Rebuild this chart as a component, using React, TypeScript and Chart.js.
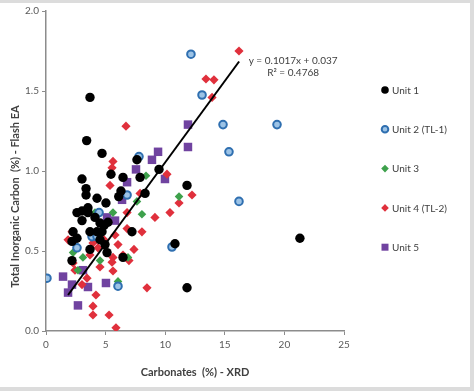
import React, { useEffect, useRef } from "react";
import { Chart, registerables } from "chart.js";

Chart.register(...registerables);

// ---- data: [carbonates %, TIC %] ----
const unit1: number[][] = [
  [3.69, 1.46], [3.41, 1.19], [4.7, 1.11], [5.45, 0.98], [6.46, 0.96], [3.02, 0.95],
  [7.63, 1.07], [7.89, 0.96], [9.48, 1.01], [3.36, 0.89], [3.36, 0.85], [4.28, 0.83],
  [5.03, 0.8], [6.29, 0.875], [8.31, 0.86], [11.83, 0.91], [2.6, 0.74], [3.02, 0.75],
  [3.52, 0.74], [3.02, 0.69], [4.11, 0.71], [4.53, 0.675], [4.87, 0.66], [5.2, 0.68],
  [2.27, 0.62], [2.6, 0.58], [2.18, 0.56], [3.69, 0.62], [4.28, 0.62], [4.7, 0.62],
  [4.95, 0.54], [5.12, 0.49], [4.53, 0.57], [3.69, 0.51], [7.21, 0.62], [10.82, 0.545],
  [6.46, 0.46], [2.18, 0.44], [11.83, 0.27], [21.3, 0.58], [6.1, 0.84], [3.52, 0.77],
];
const unit2: number[][] = [
  [12.16, 1.73], [13.09, 1.475], [14.85, 1.29], [19.38, 1.29], [15.35, 1.12], [16.19, 0.81],
  [7.8, 1.09], [6.8, 0.85], [4.45, 0.74], [3.86, 0.59], [2.6, 0.52], [10.57, 0.525],
  [6.04, 0.28], [0.08, 0.33], [4.28, 0.59],
];
const unit3: number[][] = [
  [8.39, 0.97], [11.16, 0.84], [7.63, 0.81], [8.05, 0.73], [5.62, 0.74], [4.11, 0.74],
  [4.53, 0.44], [3.1, 0.46], [6.88, 0.46], [6.04, 0.31], [2.68, 0.38], [2.27, 0.49],
];
const unit4: number[][] = [
  [16.19, 1.75], [13.42, 1.575], [14.09, 1.57], [13.93, 1.46], [6.71, 1.28], [5.62, 1.06],
  [5.54, 1.02], [10.15, 0.98], [5.37, 0.91], [7.89, 0.86], [12.25, 0.85], [11.16, 0.8],
  [10.4, 0.74], [9.14, 0.71], [6.8, 0.74], [8.05, 0.62], [6.8, 0.64], [5.79, 0.6],
  [2.18, 0.62], [1.85, 0.57], [3.94, 0.55], [4.36, 0.52], [3.69, 0.475], [5.62, 0.46],
  [5.54, 0.43], [6.46, 0.475], [7.38, 0.51], [4.53, 0.4], [5.62, 0.375], [2.27, 0.425],
  [2.43, 0.38], [3.44, 0.33], [3.02, 0.29], [8.47, 0.27], [4.19, 0.225], [3.94, 0.155],
  [3.94, 0.1], [5.29, 0.1], [5.87, 0.02], [6.96, 0.44], [4.87, 0.57], [6.04, 0.54],
];
const unit5: number[][] = [
  [11.91, 1.29], [11.91, 1.15], [9.4, 1.12], [8.89, 1.07], [7.55, 1.01], [6.8, 0.93],
  [9.98, 0.95], [6.38, 0.82], [5.12, 0.71], [5.79, 0.69], [3.1, 0.38], [1.43, 0.34],
  [2.18, 0.29], [3.52, 0.275], [5.03, 0.3], [1.85, 0.24], [2.68, 0.16],
];

const seriesLabels = ["Unit 1", "Unit 2 (TL-1)", "Unit 3", "Unit 4 (TL-2)", "Unit 5"];
const xTitle = "Carbonates  (%) - XRD";
const yTitle = "Total Inorganic Carbon  (%) - Flash EA";
const trendSlope = 0.1017;
const trendIntercept = 0.037;
const trendR2 = 0.4768;
const trendRangeX = [1.85, 16.2];
const xTicks = [0, 5, 10, 15, 20, 25];
const yTicks = [0, 0.5, 1.0, 1.5, 2.0];

const FONT = "Lato, 'Open Sans', 'Liberation Sans', sans-serif";

const styles = [
  { pointStyle: "circle", radius: 4.7, bg: "#000000", border: "#000000", bw: 0 },
  { pointStyle: "circle", radius: 3.8, bg: "#9cc3e6", border: "#2f6fb0", bw: 2 },
  { pointStyle: "rectRot", radius: 4.3, bg: "#3ea14c", border: "#3ea14c", bw: 0 },
  { pointStyle: "rectRot", radius: 4.6, bg: "#e0303c", border: "#e0303c", bw: 0 },
  { pointStyle: "rect", radius: 6, bg: "#7043a0", border: "#7043a0", bw: 0 },
];

const toPts = (arr: number[][]) => arr.map(([x, y]) => ({ x, y }));

export default function App() {
  const ref = useRef<HTMLCanvasElement>(null);

  useEffect(() => {
    if (!ref.current) return;
    const all = [unit1, unit2, unit3, unit4, unit5];
    const datasets: any[] = all.map((arr, i) => ({
      label: seriesLabels[i],
      data: toPts(arr),
      pointStyle: styles[i].pointStyle,
      pointRadius: styles[i].radius,
      backgroundColor: styles[i].bg,
      borderColor: styles[i].border,
      pointBorderWidth: styles[i].bw,
      showLine: false,
    }));
    datasets.push({
      label: "trend",
      data: trendRangeX.map((x) => ({ x, y: trendSlope * x + trendIntercept })),
      showLine: true,
      borderColor: "#000000",
      borderWidth: 2,
      pointRadius: 0,
      order: -1,
    });

    const overlay = {
      id: "overlay",
      afterDraw(chart: any) {
        const ctx = chart.ctx;
        const xs = chart.scales.x;
        const ys = chart.scales.y;
        ctx.save();
        // trendline equation
        ctx.fillStyle = "#404040";
        ctx.font = `10px ${FONT}`;
        ctx.textBaseline = "middle";
        const eq = `y = ${trendSlope}x + ${trendIntercept}`;
        const ex = xs.getPixelForValue(17);
        const ey = ys.getPixelForValue(1.69);
        ctx.textAlign = "left";
        ctx.fillText(eq, ex, ey);
        const w = ctx.measureText(eq).width;
        ctx.textAlign = "center";
        ctx.fillText(`R² = ${trendR2}`, ex + w / 2, ey + 12);

        // y axis title (offset downward like the original)
        ctx.save();
        ctx.translate(15, ys.getPixelForValue(0.84));
        ctx.rotate(-Math.PI / 2);
        ctx.font = `bold 11px ${FONT}`;
        ctx.fillStyle = "#404040";
        ctx.textAlign = "center";
        ctx.textBaseline = "middle";
        ctx.fillText(yTitle, 0, 0);
        ctx.restore();

        // legend
        const lx = 385;
        seriesLabels.forEach((lab, i) => {
          const y = 90 + i * 39.3;
          const s = styles[i];
          ctx.fillStyle = s.bg;
          ctx.strokeStyle = s.border;
          ctx.lineWidth = s.bw;
          const r = s.pointStyle === "circle" ? (i === 1 ? 3.3 : 3.8) : 3.8;
          ctx.beginPath();
          if (s.pointStyle === "circle") {
            ctx.arc(lx, y, r, 0, Math.PI * 2);
          } else if (s.pointStyle === "rectRot") {
            ctx.moveTo(lx, y - r);
            ctx.lineTo(lx + r, y);
            ctx.lineTo(lx, y + r);
            ctx.lineTo(lx - r, y);
            ctx.closePath();
          } else {
            ctx.rect(lx - 3.5, y - 3.5, 7, 7);
          }
          ctx.fill();
          if (s.bw) ctx.stroke();
          ctx.fillStyle = "#404040";
          ctx.font = `10px ${FONT}`;
          ctx.textAlign = "left";
          ctx.textBaseline = "middle";
          ctx.fillText(lab, lx + 7, y + 0.5);
        });
        ctx.restore();
      },
    };

    const chart = new Chart(ref.current, {
      type: "scatter",
      data: { datasets },
      plugins: [overlay],
      options: {
        animation: false,
        responsive: false,
        layout: { padding: { left: 0, top: 11, right: 130, bottom: 0 } },
        plugins: {
          legend: { display: false },
          tooltip: { enabled: false },
        },
        scales: {
          x: {
            type: "linear",
            min: 0,
            max: 25,
            afterBuildTicks: (s: any) => {
              s.ticks = xTicks.map((v) => ({ value: v }));
            },
            afterFit: (s: any) => {
              s.height = 60;
            },
            ticks: {
              color: "#595959",
              font: { family: FONT, size: 10 },
              padding: 4,
              maxRotation: 0,
            },
            grid: { drawOnChartArea: false, drawTicks: true, tickLength: 4, color: "#8c8c8c" },
            border: { color: "#8c8c8c", width: 1.5 },
            title: {
              display: true,
              text: xTitle,
              color: "#404040",
              font: { family: FONT, size: 11, weight: "bold" },
              padding: { top: 12, bottom: 12 },
            },
          },
          y: {
            type: "linear",
            min: 0,
            max: 2,
            afterBuildTicks: (s: any) => {
              s.ticks = yTicks.map((v) => ({ value: v }));
            },
            afterFit: (s: any) => {
              s.width = 46;
            },
            ticks: {
              color: "#595959",
              font: { family: FONT, size: 10 },
              padding: 3,
              callback: (v: any) => Number(v).toFixed(1),
            },
            grid: { drawOnChartArea: false, drawTicks: true, tickLength: 4, color: "#8c8c8c" },
            border: { color: "#8c8c8c", width: 1.5 },
            title: { display: false },
          },
        },
      } as any,
    });
    return () => chart.destroy();
  }, []);

  return (
    <div style={{ position: "fixed", left: 0, top: 0, width: 474, height: 391, background: "#fff" }}>
      <canvas ref={ref} width={474} height={391} style={{ position: "absolute", left: 0, top: 0 }} />
      <div
        style={{
          position: "absolute",
          left: 0,
          top: 0,
          width: 474,
          height: 391,
          boxSizing: "border-box",
          borderTop: "3px solid #dcdcdc",
          borderRight: "4px solid #dcdcdc",
          borderBottom: "4px solid #dcdcdc",
          pointerEvents: "none",
        }}
      />
    </div>
  );
}
